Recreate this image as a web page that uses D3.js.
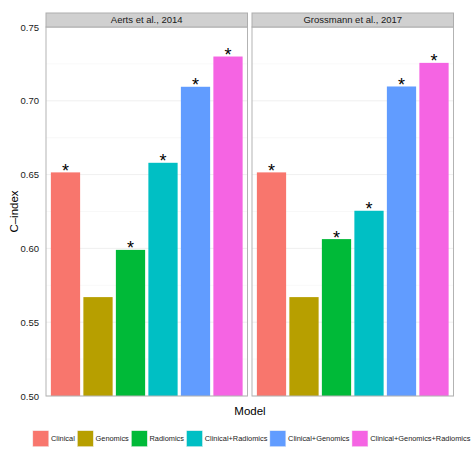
<!DOCTYPE html>
<html>
<head>
<meta charset="utf-8">
<script src="https://cdn.jsdelivr.net/npm/d3@7"></script>
<style>
  html, body { margin: 0; padding: 0; background: #fff; }
  svg { display: block; font-family: "Liberation Sans", Arial, Helvetica, sans-serif; }
</style>
</head>
<body>
<svg id="chart" width="474" height="467"></svg>
<script>
// ---- data ----
const models = ["Clinical", "Genomics", "Radiomics", "Clinical+Radiomics", "Clinical+Genomics", "Clinical+Genomics+Radiomics"];
const studies = ["Aerts et al., 2014", "Grossmann et al., 2017"];
const aertsValues = [0.6515, 0.567, 0.599, 0.658, 0.7095, 0.730];
const grossmannValues = [0.6515, 0.567, 0.6063, 0.6255, 0.7097, 0.7257];
const aertsSignif = [true, false, true, true, true, true];
const grossmannSignif = [true, false, true, true, true, true];
const yTicks = [0.50, 0.55, 0.60, 0.65, 0.70, 0.75];
const yMinorTicks = [0.525, 0.575, 0.625, 0.675, 0.725];
const colors = ["#F8766D", "#B79F00", "#00BA38", "#00BFC4", "#619CFF", "#F564E3"];

const panelsData = [
  { study: studies[0], values: aertsValues, signif: aertsSignif },
  { study: studies[1], values: grossmannValues, signif: grossmannSignif }
];

// ---- layout ----
const svg = d3.select("#chart");
const panelTop = 27, panelBottom = 396;
const stripTop = 13;
const panelX = [[46, 247.5], [252, 453.5]];

const y = d3.scaleLinear().domain([0.5, 0.75]).range([panelBottom, panelTop]);
const color = d3.scaleOrdinal().domain(models).range(colors);

panelsData.forEach((p, i) => {
  const [x0, x1] = panelX[i];
  const x = d3.scaleBand().domain(models).range([x0, x1]).paddingInner(0.1).paddingOuter(0.15);
  const g = svg.append("g");

  g.append("rect").attr("x", x0).attr("y", panelTop).attr("width", x1 - x0).attr("height", panelBottom - panelTop).attr("fill", "#fff");

  g.selectAll(".minor").data(yMinorTicks).enter().append("line")
    .attr("x1", x0).attr("x2", x1).attr("y1", d => y(d)).attr("y2", d => y(d))
    .attr("stroke", "#f4f4f4").attr("stroke-width", 0.6);
  g.selectAll(".major").data(yTicks).enter().append("line")
    .attr("x1", x0).attr("x2", x1).attr("y1", d => y(d)).attr("y2", d => y(d))
    .attr("stroke", "#ebebeb").attr("stroke-width", 0.8);

  g.selectAll(".bar").data(models).enter().append("rect")
    .attr("x", d => x(d)).attr("width", x.bandwidth())
    .attr("y", (d, j) => y(p.values[j]))
    .attr("height", (d, j) => y(0.5) - y(p.values[j]))
    .attr("fill", d => color(d));

  g.selectAll(".star").data(models.filter((d, j) => p.signif[j])).enter().append("text")
    .attr("x", d => x(d) + x.bandwidth() / 2)
    .attr("y", d => y(p.values[models.indexOf(d)]) + 4.5)
    .attr("text-anchor", "middle")
    .attr("font-size", 18)
    .attr("fill", "#000")
    .text("*");

  g.append("rect").attr("x", x0).attr("y", panelTop).attr("width", x1 - x0).attr("height", panelBottom - panelTop)
    .attr("fill", "none").attr("stroke", "#b3b3b3").attr("stroke-width", 1);

  g.append("rect").attr("x", x0).attr("y", stripTop).attr("width", x1 - x0).attr("height", panelTop - stripTop)
    .attr("fill", "#d0d0d0").attr("stroke", "#adadad").attr("stroke-width", 1);
  g.append("text").attr("x", (x0 + x1) / 2).attr("y", (stripTop + panelTop) / 2 + 3.4)
    .attr("text-anchor", "middle").attr("font-size", 9.5).attr("fill", "#1a1a1a").text(p.study);
});

const yAxis = d3.axisLeft(y).tickValues(yTicks).tickFormat(d3.format(".2f")).tickSize(0).tickPadding(7);
const ya = svg.append("g").attr("transform", `translate(${panelX[0][0]},0)`).call(yAxis);
ya.select(".domain").remove();
ya.selectAll("text").attr("font-size", 9.5).attr("fill", "#1a1a1a").attr("font-family", "Liberation Sans, Arial, sans-serif");

svg.append("text").attr("x", 250).attr("y", 415).attr("text-anchor", "middle")
  .attr("font-size", 11.5).attr("fill", "#000").text("Model");
svg.append("text").attr("transform", "translate(18,211.5) rotate(-90)").attr("text-anchor", "middle")
  .attr("font-size", 11.5).attr("fill", "#000").text("C–index");

const legend = svg.append("g");
const keySize = 16, legendY = 430.7, gapKeyLabel = 2.2, gapItem = 2.5;
const items = legend.selectAll(".item").data(models).enter().append("g");
items.append("rect").attr("width", keySize).attr("height", keySize).attr("fill", d => color(d))
  .attr("stroke", "#f2f2f2").attr("stroke-width", 0.5);
items.append("text").attr("x", keySize + gapKeyLabel).attr("y", keySize / 2 + 2.6)
  .attr("font-size", 7.4).attr("fill", "#1a1a1a").text(d => d);
let widths = [];
items.each(function() { widths.push(keySize + gapKeyLabel + d3.select(this).select("text").node().getComputedTextLength()); });
const total = d3.sum(widths) + gapItem * (widths.length - 1);
let cx = 251.6 - total / 2;
items.attr("transform", (d, i) => {
  const t = `translate(${cx},${legendY})`;
  cx += widths[i] + gapItem;
  return t;
});
</script>
</body>
</html>
